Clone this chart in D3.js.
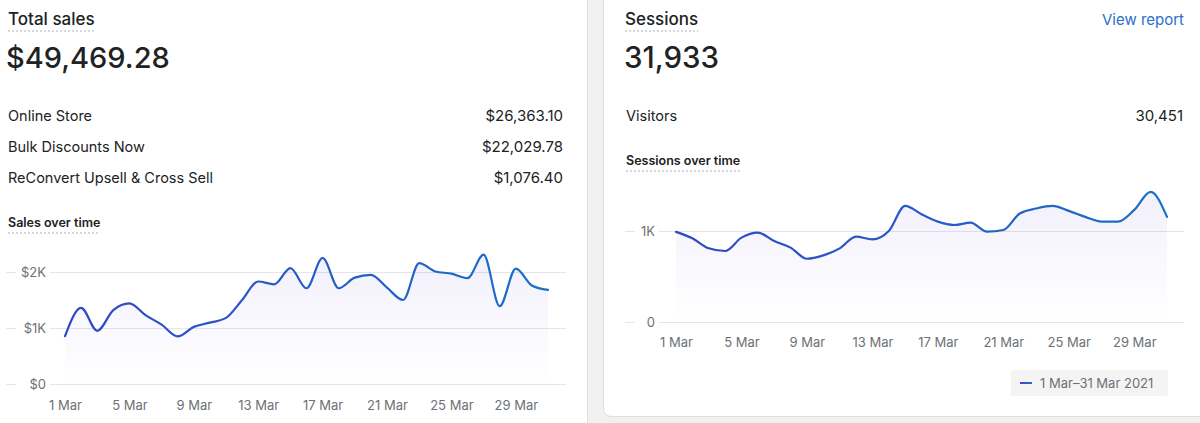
<!DOCTYPE html>
<html>
<head>
<meta charset="utf-8">
<script src="https://cdn.jsdelivr.net/npm/d3@7"></script>
<style>
  html, body { margin: 0; padding: 0; background: #f1f1f1; }
  svg { display: block; font-family: Inter, "Noto Sans", sans-serif; }
</style>
</head>
<body>
<div class="canvas"></div>
<script>
const days = d3.range(1, 32)
const dayTicks = [1, 5, 9, 13, 17, 21, 25, 29]
const dayLabels = ['1 Mar', '5 Mar', '9 Mar', '13 Mar', '17 Mar', '21 Mar', '25 Mar', '29 Mar']

const salesValues = [855, 1360, 950, 1320, 1440, 1230, 1060, 850, 1020, 1095, 1180, 1500, 1830, 1780, 2070,
  1710, 2250, 1710, 1900, 1950, 1720, 1500, 2160, 2010, 1970, 1890, 2310, 1390, 2060, 1760, 1680]
const salesTicks = [0, 1000, 2000]
const salesTickLabels = ['$0', '$1K', '$2K']

const sessionValues = [990, 920, 810, 780, 927, 982, 890, 817, 695, 732, 809, 938, 908, 1000, 1276,
  1184, 1103, 1066, 1092, 993, 1011, 1192, 1247, 1276, 1221, 1155, 1103, 1103, 1232, 1430, 1155]
const sessionTicks = [0, 1000]
const sessionTickLabels = ['0', '1K']

const channels = ['Online Store', 'Bulk Discounts Now', 'ReConvert Upsell & Cross Sell']
const channelSales = ['$26,363.10', '$22,029.78', '$1,076.40']

const dims = { width: 1200, height: 423 }

const svg = d3.select('.canvas')
    .append('svg')
    .attr('width', dims.width)
    .attr('height', dims.height)

const defs = svg.append('defs')

const lineGrad = defs.append('linearGradient')
    .attr('id', 'lineGrad')
    .attr('x1', '0%').attr('x2', '100%').attr('y1', '0%').attr('y2', '0%')
lineGrad.append('stop').attr('offset', '0%').attr('stop-color', '#3147c6')
lineGrad.append('stop').attr('offset', '100%').attr('stop-color', '#1c6fc6')

// legend swatch is a flat line, so it needs user-space units
const swatchGrad = defs.append('linearGradient')
    .attr('id', 'swatchGrad')
    .attr('gradientUnits', 'userSpaceOnUse')
    .attr('x1', 1020).attr('x2', 1032).attr('y1', 0).attr('y2', 0)
swatchGrad.append('stop').attr('offset', '0%').attr('stop-color', '#4a3fd0')
swatchGrad.append('stop').attr('offset', '100%').attr('stop-color', '#1c6fc6')

const areaGrad = defs.append('linearGradient')
    .attr('id', 'areaGrad')
    .attr('x1', '0%').attr('x2', '0%').attr('y1', '0%').attr('y2', '100%')
areaGrad.append('stop').attr('offset', '0%').attr('stop-color', '#8f85e6').attr('stop-opacity', 0.12)
areaGrad.append('stop').attr('offset', '100%').attr('stop-color', '#8f85e6').attr('stop-opacity', 0)

// page background + cards
svg.append('rect').attr('width', dims.width).attr('height', dims.height).attr('fill', '#f1f1f1')
svg.append('rect').attr('x', 0).attr('y', 0).attr('width', 587).attr('height', dims.height).attr('fill', '#fff')
svg.append('line').attr('x1', 587.5).attr('x2', 587.5).attr('y1', 0).attr('y2', dims.height)
    .attr('stroke', '#e0e0e0')
svg.append('path')
    .attr('d', 'M1201,-1 L603.5,-1 L603.5,408 Q603.5,416.5 612,416.5 L1201,416.5')
    .attr('fill', '#fff')
    .attr('stroke', '#dedede')

// header helper
const title = (x, y, text, size, weight) => {
    const t = svg.append('text')
        .attr('x', x).attr('y', y)
        .attr('font-size', size)
        .attr('font-weight', weight)
        .attr('fill', '#202223')
        .text(text)
    const w = t.node().getComputedTextLength()
    svg.append('line')
        .attr('x1', x).attr('x2', x + w)
        .attr('y1', y + 6).attr('y2', y + 6)
        .attr('stroke', '#a9b1c4')
        .attr('stroke-dasharray', '2,2')
        .attr('stroke-width', 1)
}

title(8, 25, 'Total sales', 17, 500)
svg.append('text').attr('x', 6).attr('y', 68).attr('font-size', 29).attr('font-weight', 500)
    .attr('fill', '#202223').text('$49,469.28')

channels.forEach((c, i) => {
    svg.append('text').attr('x', 8).attr('y', 121 + i * 31).attr('font-size', 14.5)
        .attr('fill', '#202223').text(c)
    svg.append('text').attr('x', 563).attr('y', 121 + i * 31).attr('font-size', 15)
        .attr('text-anchor', 'end').attr('fill', '#202223').text(channelSales[i])
})

title(8, 227, 'Sales over time', 12.5, 600)

title(625, 25, 'Sessions', 17, 500)
svg.append('text').attr('x', 1184).attr('y', 25).attr('font-size', 15).attr('text-anchor', 'end')
    .attr('fill', '#2c6ecb').text('View report')
svg.append('text').attr('x', 624).attr('y', 68).attr('font-size', 29.5).attr('font-weight', 500)
    .attr('fill', '#202223').text('31,933')
svg.append('text').attr('x', 626).attr('y', 121).attr('font-size', 14.5).attr('fill', '#202223').text('Visitors')
svg.append('text').attr('x', 1183).attr('y', 121).attr('font-size', 15).attr('text-anchor', 'end')
    .attr('fill', '#202223').text('30,451')
title(626, 165, 'Sessions over time', 12.5, 600)

// chart drawing
const drawChart = (opts) => {
    const x = d3.scaleLinear().domain([1, 31]).range(opts.xRange)
    const y = d3.scaleLinear().domain([0, opts.ticks[opts.ticks.length - 1]]).range(opts.yRange)
    const g = svg.append('g')

    const yAxis = d3.axisLeft(y)
        .tickValues(opts.ticks)
        .tickFormat((d, i) => opts.tickLabels[i])
        .tickSize(-(opts.gridRight - opts.gridLeft - opts.labelGap))
        .tickPadding(4)
    const yg = g.append('g')
        .attr('transform', `translate(${opts.gridLeft + opts.labelGap}, 0)`)
        .call(yAxis)
    yg.select('.domain').remove()
    yg.selectAll('.tick line').attr('stroke', '#e4e5e7')
    yg.selectAll('.tick text').attr('fill', '#6d7175').attr('font-size', 13)
        .attr('font-family', 'Inter, sans-serif').attr('x', -4)
    // short dash left of label like the reference grid
    yg.selectAll('.tick').append('line')
        .attr('x1', -opts.labelGap).attr('x2', -opts.labelGap + 10)
        .attr('stroke', '#e4e5e7')

    const xAxis = d3.axisBottom(x)
        .tickValues(dayTicks)
        .tickFormat((d, i) => dayLabels[i])
        .tickSize(0)
    const xg = g.append('g')
        .attr('transform', `translate(0, ${opts.xLabelY})`)
        .call(xAxis)
    xg.select('.domain').remove()
    xg.selectAll('.tick text').attr('fill', '#6d7175').attr('font-size', 13)
        .attr('font-family', 'Inter, sans-serif')

    const area = d3.area()
        .x((d, i) => x(days[i]))
        .y0(y(0))
        .y1(d => y(d))
        .curve(d3.curveMonotoneX)
    g.append('path')
        .datum(opts.values)
        .attr('d', area)
        .attr('fill', 'url(#areaGrad)')

    const line = d3.line()
        .x((d, i) => x(days[i]))
        .y(d => y(d))
        .curve(d3.curveMonotoneX)
    g.append('path')
        .datum(opts.values)
        .attr('d', line)
        .attr('fill', 'none')
        .attr('stroke', 'url(#lineGrad)')
        .attr('stroke-width', 2.2)
        .attr('stroke-linecap', 'round')
}

drawChart({
    values: salesValues,
    ticks: salesTicks,
    tickLabels: salesTickLabels,
    xRange: [65, 548],
    yRange: [384, 272],
    gridLeft: 6,
    gridRight: 566,
    labelGap: 44,
    xLabelY: 398
})

drawChart({
    values: sessionValues,
    ticks: sessionTicks,
    tickLabels: sessionTickLabels,
    xRange: [676, 1167],
    yRange: [322, 231],
    gridLeft: 625,
    gridRight: 1184,
    labelGap: 34,
    xLabelY: 335
})

// legend
svg.append('rect').attr('x', 1011).attr('y', 370).attr('width', 157).attr('height', 26)
    .attr('fill', '#f4f4f5').attr('rx', 2)
svg.append('line').attr('x1', 1020).attr('x2', 1032).attr('y1', 383).attr('y2', 383)
    .attr('stroke', 'url(#swatchGrad)').attr('stroke-width', 2)
svg.append('text').attr('x', 1040).attr('y', 387.5).attr('font-size', 13)
    .attr('fill', '#6d7175').text('1 Mar–31 Mar 2021')
</script>
</body>
</html>
